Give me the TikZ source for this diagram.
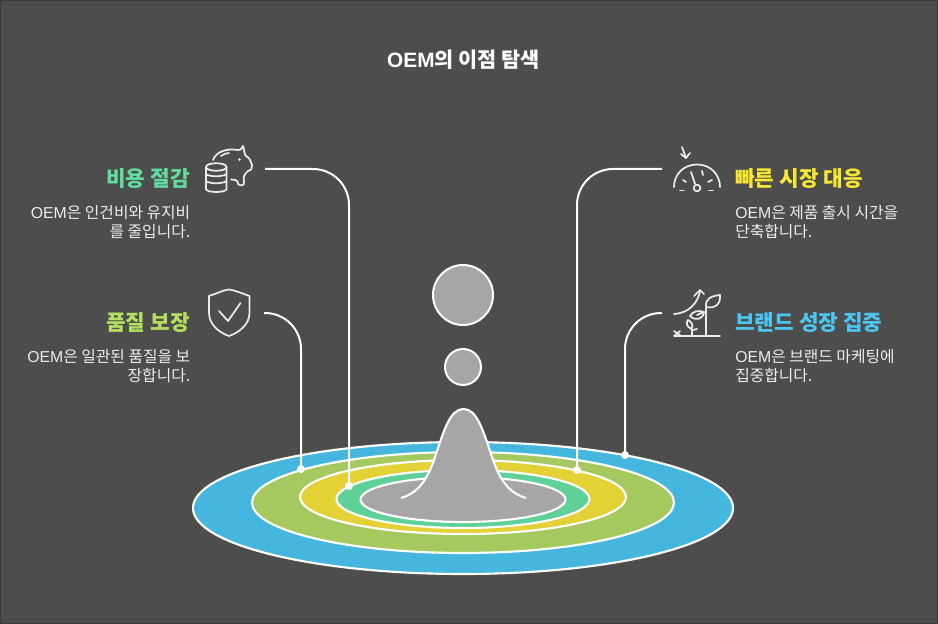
\documentclass[tikz,border=0pt]{standalone}
\usepackage{fontspec}
\setmainfont{Noto Sans CJK KR}
\newfontfamily\latinf{Liberation Sans}
\definecolor{bg}{HTML}{4D4D4D}
\definecolor{edgec}{HTML}{3A3A3A}
\definecolor{rblue}{HTML}{45B6DE}
\definecolor{rlime}{HTML}{A5C95F}
\definecolor{ryellow}{HTML}{E3D136}
\definecolor{rgreen}{HTML}{5FD098}
\definecolor{rgray}{HTML}{A6A6A6}
\definecolor{tgreen}{HTML}{62DBA0}
\definecolor{tlime}{HTML}{B4E05F}
\definecolor{tyellow}{HTML}{F7E733}
\definecolor{tblue}{HTML}{4CC6F0}
\definecolor{bodyc}{HTML}{EDEDED}
\tikzset{
 x=0.75pt,y=-0.75pt,
 ring/.style={draw=white,line width=1.6pt},
 conn/.style={draw=white,line width=1.5pt,rounded corners=27pt},
 dotm/.style={circle,fill=white,inner sep=0pt,minimum size=6pt},
 icon/.style={draw=white!92!black,line width=1.3pt,line cap=round,line join=round,fill=none},
 head/.style={font=\bfseries\fontsize{16}{19}\selectfont,inner sep=0pt},
 bodyr/.style={font=\fontsize{11.85}{14.6}\selectfont,text=bodyc,inner sep=0pt,align=right,anchor=north east},
 bodyl/.style={font=\fontsize{11.85}{14.6}\selectfont,text=bodyc,inner sep=0pt,align=left,anchor=north west},
}
\begin{document}
\begin{tikzpicture}
\useasboundingbox (0,0) rectangle (938,624);
\fill[bg] (0,0) rectangle (938,624);
\draw[edgec,line width=0.75pt] (0.5,0.5) rectangle (937.5,623.5);

\node[font=\bfseries\fontsize{15.6}{19}\selectfont,text=white,inner sep=0pt] (title) at (463.5,60) {{\latinf OEM}의 이점 탐색};

% rings
\path[ring,fill=rblue] (463,508) ellipse [x radius=270,y radius=66];
\path[ring,fill=rlime] (463,502.5) ellipse [x radius=211,y radius=50.5];
\path[ring,fill=ryellow] (463,497) ellipse [x radius=163,y radius=37];
\path[ring,fill=rgreen] (463,499) ellipse [x radius=126.5,y radius=29];
\path[ring,fill=rgray] (463,499.5) ellipse [x radius=102.5,y radius=22.5];

% peak
\fill[rgray] (401,498) .. controls (418,493) and (427,480) .. (434,460) .. controls (444,430) and (450,409) .. (463.5,409)
  .. controls (477,409) and (483,430) .. (493,460) .. controls (500,480) and (509,493) .. (526,498) -- cycle;
\draw[white,line width=1.6pt] (401,498) .. controls (418,493) and (427,480) .. (434,460) .. controls (444,430) and (450,409) .. (463.5,409)
  .. controls (477,409) and (483,430) .. (493,460) .. controls (500,480) and (509,493) .. (526,498);
\node[circle,draw=white,line width=1.5pt,fill=rgray,minimum size=45pt,inner sep=0pt] (c1) at (463,295) {};
\node[circle,draw=white,line width=1.5pt,fill=rgray,minimum size=27pt,inner sep=0pt] (c2) at (463,367) {};

% connector ends
\coordinate (a1) at (265,169); \node[dotm] (d1) at (349,486) {};
\coordinate (a2) at (264,313); \node[dotm] (d2) at (301,469) {};
\coordinate (a3) at (662,169); \node[dotm] (d3) at (577,470) {};
\coordinate (a4) at (662,313); \node[dotm] (d4) at (625,455) {};
\draw[conn] (a1) -| (d1.center);
\draw[conn] (a2) -| (d2.center);
\draw[conn] (a3) -| (d3.center);
\draw[conn] (a4) -| (d4.center);

% texts
\node[head,text=tgreen,anchor=east] (h1) at (190,179) {비용 절감};
\node[bodyr] (b1) at (190.5,205) {{\latinf OEM}은 인건비와 유지비\\를 줄입니다.};
\node[head,text=tlime,anchor=east] (h2) at (190,323) {품질 보장};
\node[bodyr] (b2) at (190.5,349) {{\latinf OEM}은 일관된 품질을 보\\장합니다.};
\node[head,text=tyellow,anchor=west] (h3) at (735,179) {빠른 시장 대응};
\node[bodyl] (b3) at (735,205) {{\latinf OEM}은 제품 출시 시간을\\단축합니다.};
\node[head,text=tblue,anchor=west] (h4) at (735,323) {브랜드 성장 집중};
\node[bodyl] (b4) at (735,349) {{\latinf OEM}은 브랜드 마케팅에\\집중합니다.};

% icon: coins + piggy
\begin{scope}[icon]
\draw (206,167) .. controls (206,162) and (226.5,162) .. (226.5,167) .. controls (226.5,172) and (206,172) .. (206,167);
\draw (206,167) -- (206,189) .. controls (206,193) and (226.5,193) .. (226.5,189) -- (226.5,167);
\draw (206,174) .. controls (209,177) and (223,177) .. (226.5,174);
\draw (206,181) .. controls (209,184) and (223,184) .. (226.5,181);
\draw (213,160) .. controls (216,152) and (226,148) .. (238,150) .. controls (241,150.5) and (241,149) .. (243,146)
 .. controls (244,148) and (244,154) .. (246,156) .. controls (248,158) and (250,158) .. (250,160)
 .. controls (250,162) and (252,162) .. (252,165) .. controls (252,168) and (252,170) .. (248,171)
 .. controls (244,174) and (243,178) .. (244,182) .. controls (245,186) and (240,186) .. (238,184) .. controls (238,180) and (236,180) .. (231,179.5);
\draw (221,156) .. controls (224,154) and (226,153) .. (229,153);
\fill[white] (239.5,159.5) circle (1.4);
\end{scope}
% icon: shield
\begin{scope}[icon]
\draw (209,296) .. controls (218,293) and (224,290) .. (229,289.5) .. controls (234,290) and (241,293) .. (249.5,296)
 -- (249.5,313) .. controls (249.5,325) and (238,333) .. (229,336) .. controls (220,333) and (209,325) .. (209,313) -- cycle;
\draw (219,311) -- (228,321) -- (240.5,303);
\end{scope}
% icon: gauge
\begin{scope}[icon]
\draw (674,187) .. controls (674,175) and (683,164.5) .. (697,164.5) .. controls (711,164.5) and (720,175) .. (720,187);
\draw (691,172) -- (695,184);
\node[circle,draw=white!92!black,line width=1.3pt,inner sep=0pt,minimum size=5pt] (g0) at (697,188) {};
\draw (683,180) -- (686,182); \draw (680,190.5) -- (684,190.5);
\draw (703,175) -- (702,171); \draw (708,182) -- (712,180); \draw (709,190.5) -- (713,190.5);
\draw (682,147) -- (686,158); \draw (681,154) -- (686,158) -- (690,153);
\end{scope}
% icon: plants
\begin{scope}[icon]
\draw (674,336) -- (720,336);
\draw (706,336) -- (706,308);
\draw (706,307) .. controls (705,298) and (712,296) .. (720,295) .. controls (721,304) and (715,309) .. (706,307);
\draw (704,312) .. controls (698,310) and (693,311) .. (690,316) .. controls (695,321) and (703,320) .. (704,312) -- (697,315);
\draw (692,336) -- (692,329);
\draw (691,329) .. controls (686,326) and (686,322) .. (688,320) .. controls (692,322) and (694,326) .. (691,329);
\draw (693,330) -- (697,329);
\draw (674,331) -- (680,335); \draw (680,331) -- (675,335);
\draw (674,314) .. controls (690,313) and (698,302) .. (700,291);
\draw (694,296) -- (700,290) -- (704,294);
\end{scope}
\end{tikzpicture}
\end{document}
